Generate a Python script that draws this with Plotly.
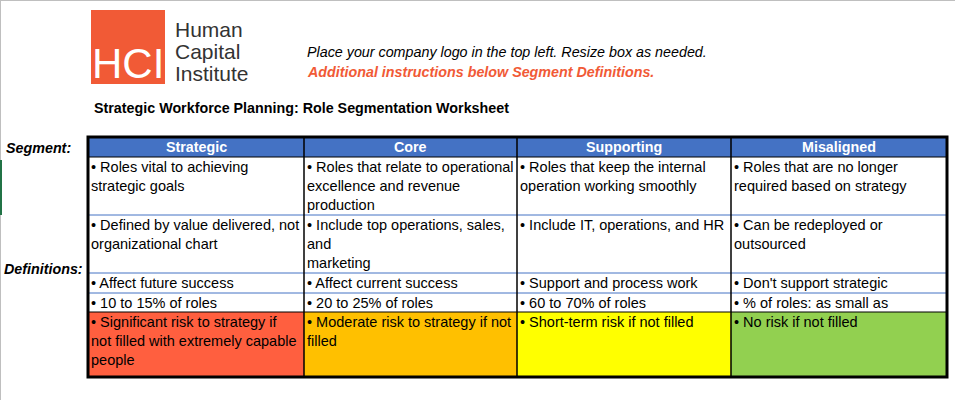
import plotly.graph_objects as go

# table data
segments = ['Strategic', 'Core', 'Supporting', 'Misaligned']
col_edges = [88, 304, 517, 731, 947]
row_edges = [157, 215, 273, 293, 312, 377]
header_top = 137
definitions = [
    ['• Roles vital to achieving<br>strategic goals',
     '• Roles that relate to operational<br>excellence and revenue<br>production',
     '• Roles that keep the internal<br>operation working smoothly',
     '• Roles that are no longer<br>required based on strategy'],
    ['• Defined by value delivered, not<br>organizational chart',
     '• Include top operations, sales,<br>and<br>marketing',
     '• Include IT, operations, and HR',
     '• Can be redeployed or<br>outsourced'],
    ['• Affect future success', '• Affect current success',
     '• Support and process work', "• Don't support strategic"],
    ['• 10 to 15% of roles', '• 20 to 25% of roles',
     '• 60 to 70% of roles', '• % of roles: as small as'],
    ['• Significant risk to strategy if<br>not filled with extremely capable<br>people',
     '• Moderate risk to strategy if not<br>filled',
     '• Short-term risk if not filled',
     '• No risk if not filled'],
]
risk_colors = ['#FF5F3F', '#FFC000', '#FFFF00', '#92D050']
logo_words = ['Human', 'Capital', 'Institute']

FONT = 'Liberation Sans, Arial'
fig = go.Figure()
shapes = []
ann = []

# logo
shapes.append(dict(type='rect', x0=91, x1=165, y0=10, y1=84, fillcolor='#F15A36', line_width=0))
ann.append(dict(x=128, y=63, text='HCI', showarrow=False, xanchor='center', yanchor='middle',
                font=dict(family=FONT, size=42, color='white')))
for k, w in enumerate(logo_words):
    ann.append(dict(x=173, y=29 + 22 * k, text=w, showarrow=False, xanchor='left', yanchor='middle',
                    font=dict(family=FONT, size=21, color='#333333')))
ann.append(dict(x=305, y=52, text='<i>Place your company logo in the top left. Resize box as needed.</i>',
                showarrow=False, xanchor='left', yanchor='middle', font=dict(family=FONT, size=14.3, color='black')))
ann.append(dict(x=305, y=72, text='<b><i>Additional instructions below Segment Definitions.</i></b>',
                showarrow=False, xanchor='left', yanchor='middle', font=dict(family=FONT, size=14.3, color='#F15A36')))
ann.append(dict(x=92, y=108, text='<b>Strategic Workforce Planning: Role Segmentation Worksheet</b>',
                showarrow=False, xanchor='left', yanchor='middle', font=dict(family=FONT, size=14.3, color='black')))
ann.append(dict(x=4, y=148, text='<b><i>Segment:</i></b>', showarrow=False, xanchor='left',
                yanchor='middle', font=dict(family=FONT, size=14.3, color='black')))
ann.append(dict(x=2, y=269, text='<b><i>Definitions:</i></b>', showarrow=False, xanchor='left',
                yanchor='middle', font=dict(family=FONT, size=14.3, color='black')))

# header
for i, seg in enumerate(segments):
    shapes.append(dict(type='rect', x0=col_edges[i], x1=col_edges[i + 1], y0=header_top, y1=row_edges[0],
                       fillcolor='#4472C4', line_width=0))
    ann.append(dict(x=(col_edges[i] + col_edges[i + 1]) / 2, y=(header_top + row_edges[0]) / 2,
                    text='<b>' + seg + '</b>', showarrow=False, xanchor='center', yanchor='middle',
                    font=dict(family=FONT, size=14.3, color='white')))

# risk row fills
for i, c in enumerate(risk_colors):
    shapes.append(dict(type='rect', x0=col_edges[i], x1=col_edges[i + 1], y0=row_edges[4], y1=row_edges[5],
                       fillcolor=c, line_width=0))

# cell text
for r, row in enumerate(definitions):
    for i, txt in enumerate(row):
        ann.append(dict(x=col_edges[i] + 1, y=row_edges[r], text=txt, showarrow=False,
                        xanchor='left', yanchor='top', align='left',
                        font=dict(family=FONT, size=14.5, color='black')))

# inner lines
for y in row_edges[1:4]:
    shapes.append(dict(type='line', x0=col_edges[0], x1=col_edges[-1], y0=y, y1=y,
                       line=dict(color='#4472C4', width=1)))
for y in [row_edges[0], row_edges[4]]:
    shapes.append(dict(type='line', x0=col_edges[0], x1=col_edges[-1], y0=y, y1=y,
                       line=dict(color='black', width=1)))
for x in col_edges[1:-1]:
    shapes.append(dict(type='line', x0=x, x1=x, y0=header_top, y1=row_edges[-1],
                       line=dict(color='black', width=1.5)))
shapes.append(dict(type='rect', x0=col_edges[0], x1=col_edges[-1], y0=header_top, y1=row_edges[-1],
                   line=dict(color='black', width=3)))

# sheet edges
shapes.append(dict(type='line', x0=0, x1=955, y0=0.5, y1=0.5, line=dict(color='#BFBFBF', width=1)))
shapes.append(dict(type='line', x0=0.5, x1=0.5, y0=0, y1=400, line=dict(color='#BFBFBF', width=1)))
shapes.append(dict(type='line', x0=1, x1=1, y0=160, y1=215, line=dict(color='#217346', width=2)))

fig.update_layout(width=955, height=400, margin=dict(l=0, r=0, t=0, b=0),
                  plot_bgcolor='white', paper_bgcolor='white',
                  shapes=shapes, annotations=ann, showlegend=False)
fig.update_xaxes(range=[0, 955], visible=False)
fig.update_yaxes(range=[400, 0], visible=False)

# drop the default 8px page margin so the figure fills the window
fig.write_html('out.html', config={'displayModeBar': False},
               post_script="document.body.style.margin='0';document.body.style.overflow='hidden';")
